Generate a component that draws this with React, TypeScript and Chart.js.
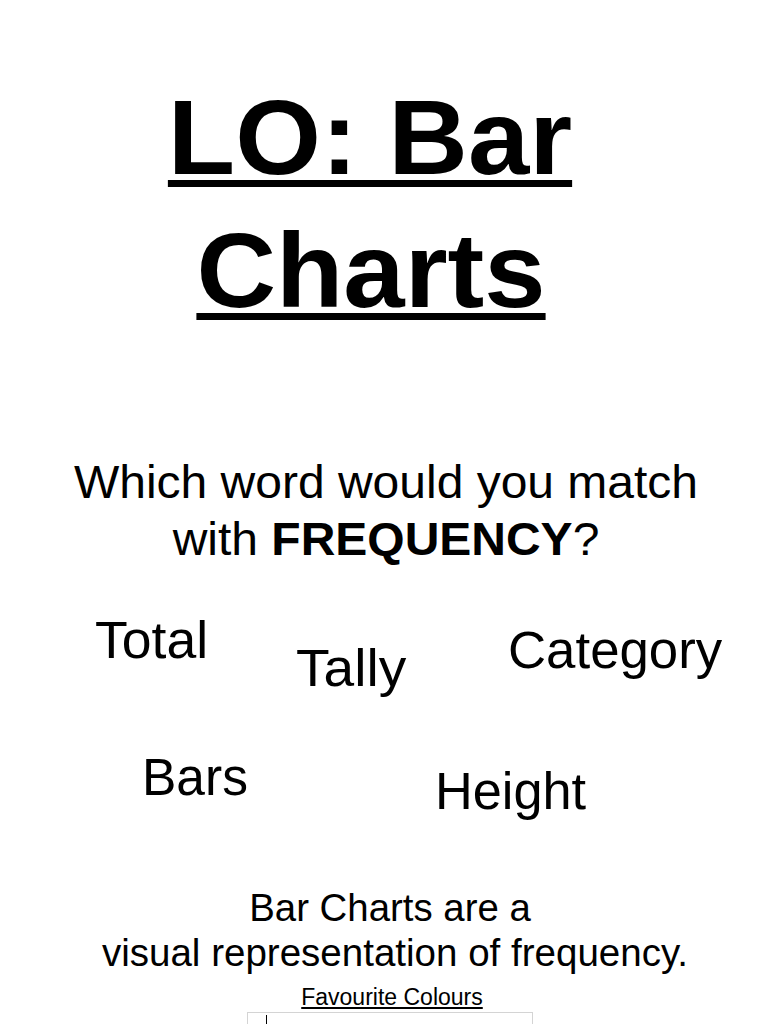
import React, { useEffect, useRef } from "react";
import { Chart, registerables } from "chart.js";

Chart.register(...registerables);

// Chart data (only the top edge of the chart is visible in the reference)
const categories = ["Red", "Blue", "Green", "Yellow", "Pink", "Purple"];
const frequencies = [6, 8, 5, 3, 4, 2];
const chartTitle = "Favourite Colours";

const FONT = '"Liberation Sans", Arial, Helvetica, sans-serif';

type TextProps = {
  top: number;
  left?: number;
  centerX?: number;
  size: number;
  bold?: boolean;
  underline?: boolean;
  ulThick?: number;
  ulOffset?: number;
  scaleX?: number;
  children: React.ReactNode;
};

function Txt({ top, left, centerX, size, bold, underline, ulThick, ulOffset, scaleX, children }: TextProps) {
  const style: React.CSSProperties = {
    position: "absolute",
    top,
    fontFamily: FONT,
    fontSize: size,
    lineHeight: `${size}px`,
    fontWeight: bold ? 700 : 400,
    color: "#000",
    whiteSpace: "nowrap",
    margin: 0,
  };
  if (underline) {
    style.textDecoration = "underline";
    style.textDecorationThickness = `${ulThick ?? 2}px`;
    style.textUnderlineOffset = `${ulOffset ?? 2}px`;
    style.textDecorationSkipInk = "none";
  }
  const sx = scaleX ? ` scaleX(${scaleX})` : "";
  if (centerX !== undefined) {
    style.left = centerX;
    style.transform = `translateX(-50%)${sx}`;
  } else {
    style.left = left;
    style.transformOrigin = "left center";
    if (sx) style.transform = sx.trim();
  }
  return <div style={style}>{children}</div>;
}

function BarChart() {
  const ref = useRef<HTMLCanvasElement | null>(null);
  useEffect(() => {
    if (!ref.current) return;
    const chart = new Chart(ref.current, {
      type: "bar",
      data: {
        labels: categories,
        datasets: [
          {
            label: "Frequency",
            data: frequencies,
            backgroundColor: "#4f81bd",
            borderColor: "#385d8a",
            borderWidth: 1,
          },
        ],
      },
      options: {
        responsive: false,
        animation: false,
        layout: { padding: { top: 2, right: 10, left: 0, bottom: 4 } },
        plugins: { legend: { display: false }, title: { display: false }, tooltip: { enabled: false } },
        scales: {
          x: {
            grid: { display: false },
            border: { color: "#000" },
            ticks: { color: "#000", font: { family: FONT, size: 10 } },
          },
          y: {
            min: 0,
            max: 10,
            grid: { display: false },
            border: { color: "#000", width: 1 },
            ticks: { display: false, stepSize: 2 },
            afterFit: (s: any) => {
              s.width = 18;
            },
          },
        },
      },
    });
    return () => chart.destroy();
  }, []);
  return <canvas ref={ref} width={284} height={260} style={{ display: "block" }} />;
}

export default function App() {
  return (
    <div
      style={{
        position: "absolute",
        left: 0,
        top: 0,
        width: 768,
        height: 1024,
        overflow: "hidden",
        background: "#fff",
      }}
    >
      <Txt top={84} centerX={370} size={106} bold underline ulThick={7} ulOffset={6} scaleX={1.04}>
        LO: Bar
      </Txt>
      <Txt top={217} centerX={371} size={106} bold underline ulThick={7} ulOffset={6} scaleX={1.04}>
        Charts
      </Txt>

      <Txt top={458} centerX={386} size={47} scaleX={1.021}>
        Which word would you match
      </Txt>
      <Txt top={515} centerX={386} size={47} scaleX={1.021}>
        with <b>FREQUENCY</b>?
      </Txt>

      <Txt top={615} left={95} size={51} scaleX={1.05}>Total</Txt>
      <Txt top={643} left={296} size={51} scaleX={1.08}>Tally</Txt>
      <Txt top={625} left={508} size={51} scaleX={1.035}>Category</Txt>
      <Txt top={752} left={142} size={51} scaleX={1.01}>Bars</Txt>
      <Txt top={766} left={435} size={51} scaleX={1.025}>Height</Txt>

      <Txt top={889} centerX={390} size={38} scaleX={1.01}>
        Bar Charts are a
      </Txt>
      <Txt top={934} centerX={395} size={38} scaleX={1.014}>
        visual representation of frequency.
      </Txt>

      <Txt top={986} centerX={392} size={23} underline ulThick={2} ulOffset={2}>
        {chartTitle}
      </Txt>

      <div
        style={{
          position: "absolute",
          left: 247,
          top: 1012,
          width: 284,
          height: 262,
          border: "1px solid #d4d4d4",
        }}
      >
        <BarChart />
      </div>
    </div>
  );
}
